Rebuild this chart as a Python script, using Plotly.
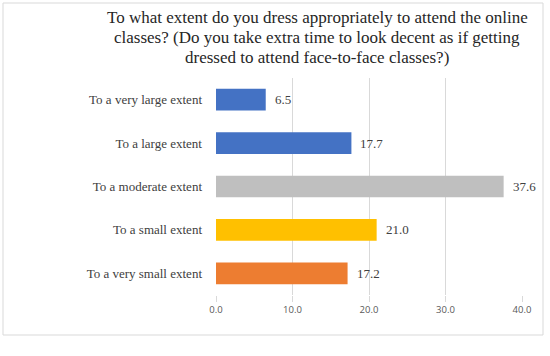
import plotly.graph_objects as go

categories = ["To a very large extent", "To a large extent", "To a moderate extent",
              "To a small extent", "To a very small extent"]
values = [6.5, 17.7, 37.6, 21.0, 17.2]
colors = ["#4472C4", "#4472C4", "#BFBFBF", "#FFC000", "#ED7D31"]
x_ticks = [0, 10, 20, 30, 40]
title_lines = ["To what extent do you dress appropriately to attend the online",
               "classes? (Do you take extra time to look decent as if getting",
               "dressed to attend face-to-face classes?)"]

W, H = 550, 356
PL, PR, PT, PB = 216, 522, 78, 295   # plot area in pixels
L, R, T, B = PL, W - PR, PT, H - PB
pw, ph = PR - PL, PB - PT

def px_x(p):
    return (p - PL) / pw

def px_y(p):
    return (PB - p) / ph

SERIF = "Liberation Serif"

fig = go.Figure(go.Bar(
    x=values, y=categories, orientation="h",
    marker=dict(color=colors, line=dict(width=0)),
    width=0.5,
))

annotations = []
for i, line in enumerate(title_lines):
    annotations.append(dict(text=line, xref="paper", yref="paper",
                            x=px_x(317), y=px_y(17 + 20.5 * i),
                            xanchor="center", yanchor="middle", showarrow=False,
                            font=dict(family=SERIF, size=17, color="#262626")))
for c, v in zip(categories, values):
    annotations.append(dict(text=f"{v:.1f}", x=v, y=c, xref="x", yref="y",
                            xanchor="left", yanchor="middle", xshift=7,
                            showarrow=False,
                            font=dict(family=SERIF, size=13, color="#404040")))

fig.update_layout(
    width=W, height=H,
    margin=dict(l=L, r=R, t=T, b=B, pad=0),
    paper_bgcolor="white", plot_bgcolor="white",
    showlegend=False,
    xaxis=dict(range=[0, 40], tickvals=x_ticks, tickformat=".1f", automargin=False,
               showgrid=True, gridcolor="#D9D9D9", gridwidth=1,
               zeroline=False, showline=False,
               ticks="outside", ticklen=6, tickcolor="#D9D9D9",
               tickfont=dict(family="Open Sans", size=9.5, color="#595959")),
    yaxis=dict(categoryorder="array", categoryarray=categories, autorange="reversed",
               showgrid=False, zeroline=False, showline=False, automargin=False,
               ticks="", ticklabelstandoff=13,
               tickfont=dict(family=SERIF, size=13, color="#404040")),
    annotations=annotations,
    shapes=[dict(type="rect", xref="paper", yref="paper",
                 x0=px_x(3), x1=px_x(543), y0=px_y(335), y1=px_y(3),
                 line=dict(color="#D9D9D9", width=1), layer="below")],
)

fig.write_html("out.html", config={"displayModeBar": False},
               post_script="document.body.style.margin='0';document.body.style.padding='0';")
